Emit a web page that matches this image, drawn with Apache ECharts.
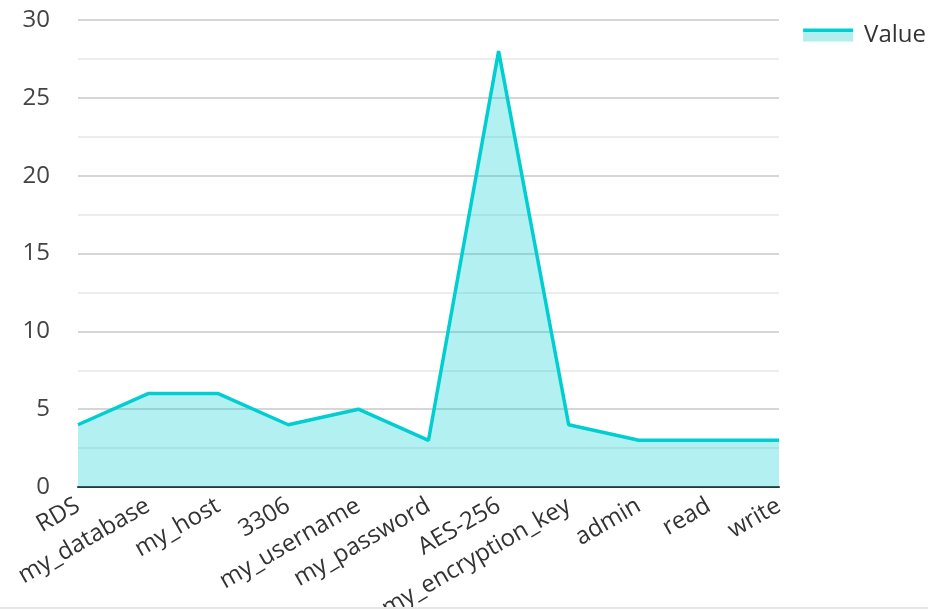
<!DOCTYPE html>
<html><head><meta charset="utf-8">
<script src="https://cdn.jsdelivr.net/npm/echarts@6/dist/echarts.min.js"></script>
<style>
html,body{margin:0;padding:0;background:#fff;overflow:hidden;}
#c{width:928px;height:607px;border-bottom:2px solid #e6e6e6;}
</style></head>
<body><div id="c"></div>
<script>
const categories = ['RDS','my_database','my_host','3306','my_username','my_password','AES-256','my_encryption_key','admin','read','write'];
const values = [4,6,6,4,5,3,28,4,3,3,3];
const seriesName = 'Value';
const chart = echarts.init(document.getElementById('c'), null, {renderer:'canvas'});
const font = '"Open Sans", "Noto Sans", sans-serif';
const legendFill = new echarts.graphic.LinearGradient(0,0,0,1,[
  {offset:0,color:'#00CED1'},{offset:0.3,color:'#00CED1'},
  {offset:0.3,color:'#b2eeee'},{offset:1,color:'#b2eeee'}
]);
chart.setOption({
  animation:false,
  textStyle:{fontFamily:font},
  legend:{
    data:[{name:seriesName, icon:'rect', itemStyle:{color:legendFill, borderWidth:0}}],
    right:-3, top:18, itemWidth:50, itemHeight:13, itemGap:10,
    textStyle:{fontSize:24, color:'#333', fontFamily:font, padding:[0,0,0,6]}
  },
  grid:{left:78, right:149, top:20, bottom:120, containLabel:false, outerBoundsMode:'none'},
  xAxis:{
    type:'category', data:categories, boundaryGap:false,
    axisLine:{lineStyle:{color:'#333', width:2}},
    axisTick:{show:false},
    axisLabel:{rotate:30, fontSize:24, color:'#333', fontFamily:font, interval:0, margin:17},
    splitLine:{show:false}
  },
  yAxis:{
    type:'value', min:0, max:30, interval:5,
    axisLine:{show:false}, axisTick:{show:false},
    axisLabel:{fontSize:24, color:'#444', fontFamily:font, margin:28},
    splitLine:{lineStyle:{color:'#c8c8c8', width:1.5}},
    minorTick:{show:false, splitNumber:2},
    minorSplitLine:{show:true, lineStyle:{color:'#e8e8e8', width:1.5}}
  },
  series:[{
    name:seriesName, type:'line', data:values, showSymbol:false, symbol:'none',
    lineStyle:{color:'#00CED1', width:3.5},
    itemStyle:{color:'#00CED1'},
    areaStyle:{color:'#00CED1', opacity:0.3}
  }]
});
</script></body></html>
